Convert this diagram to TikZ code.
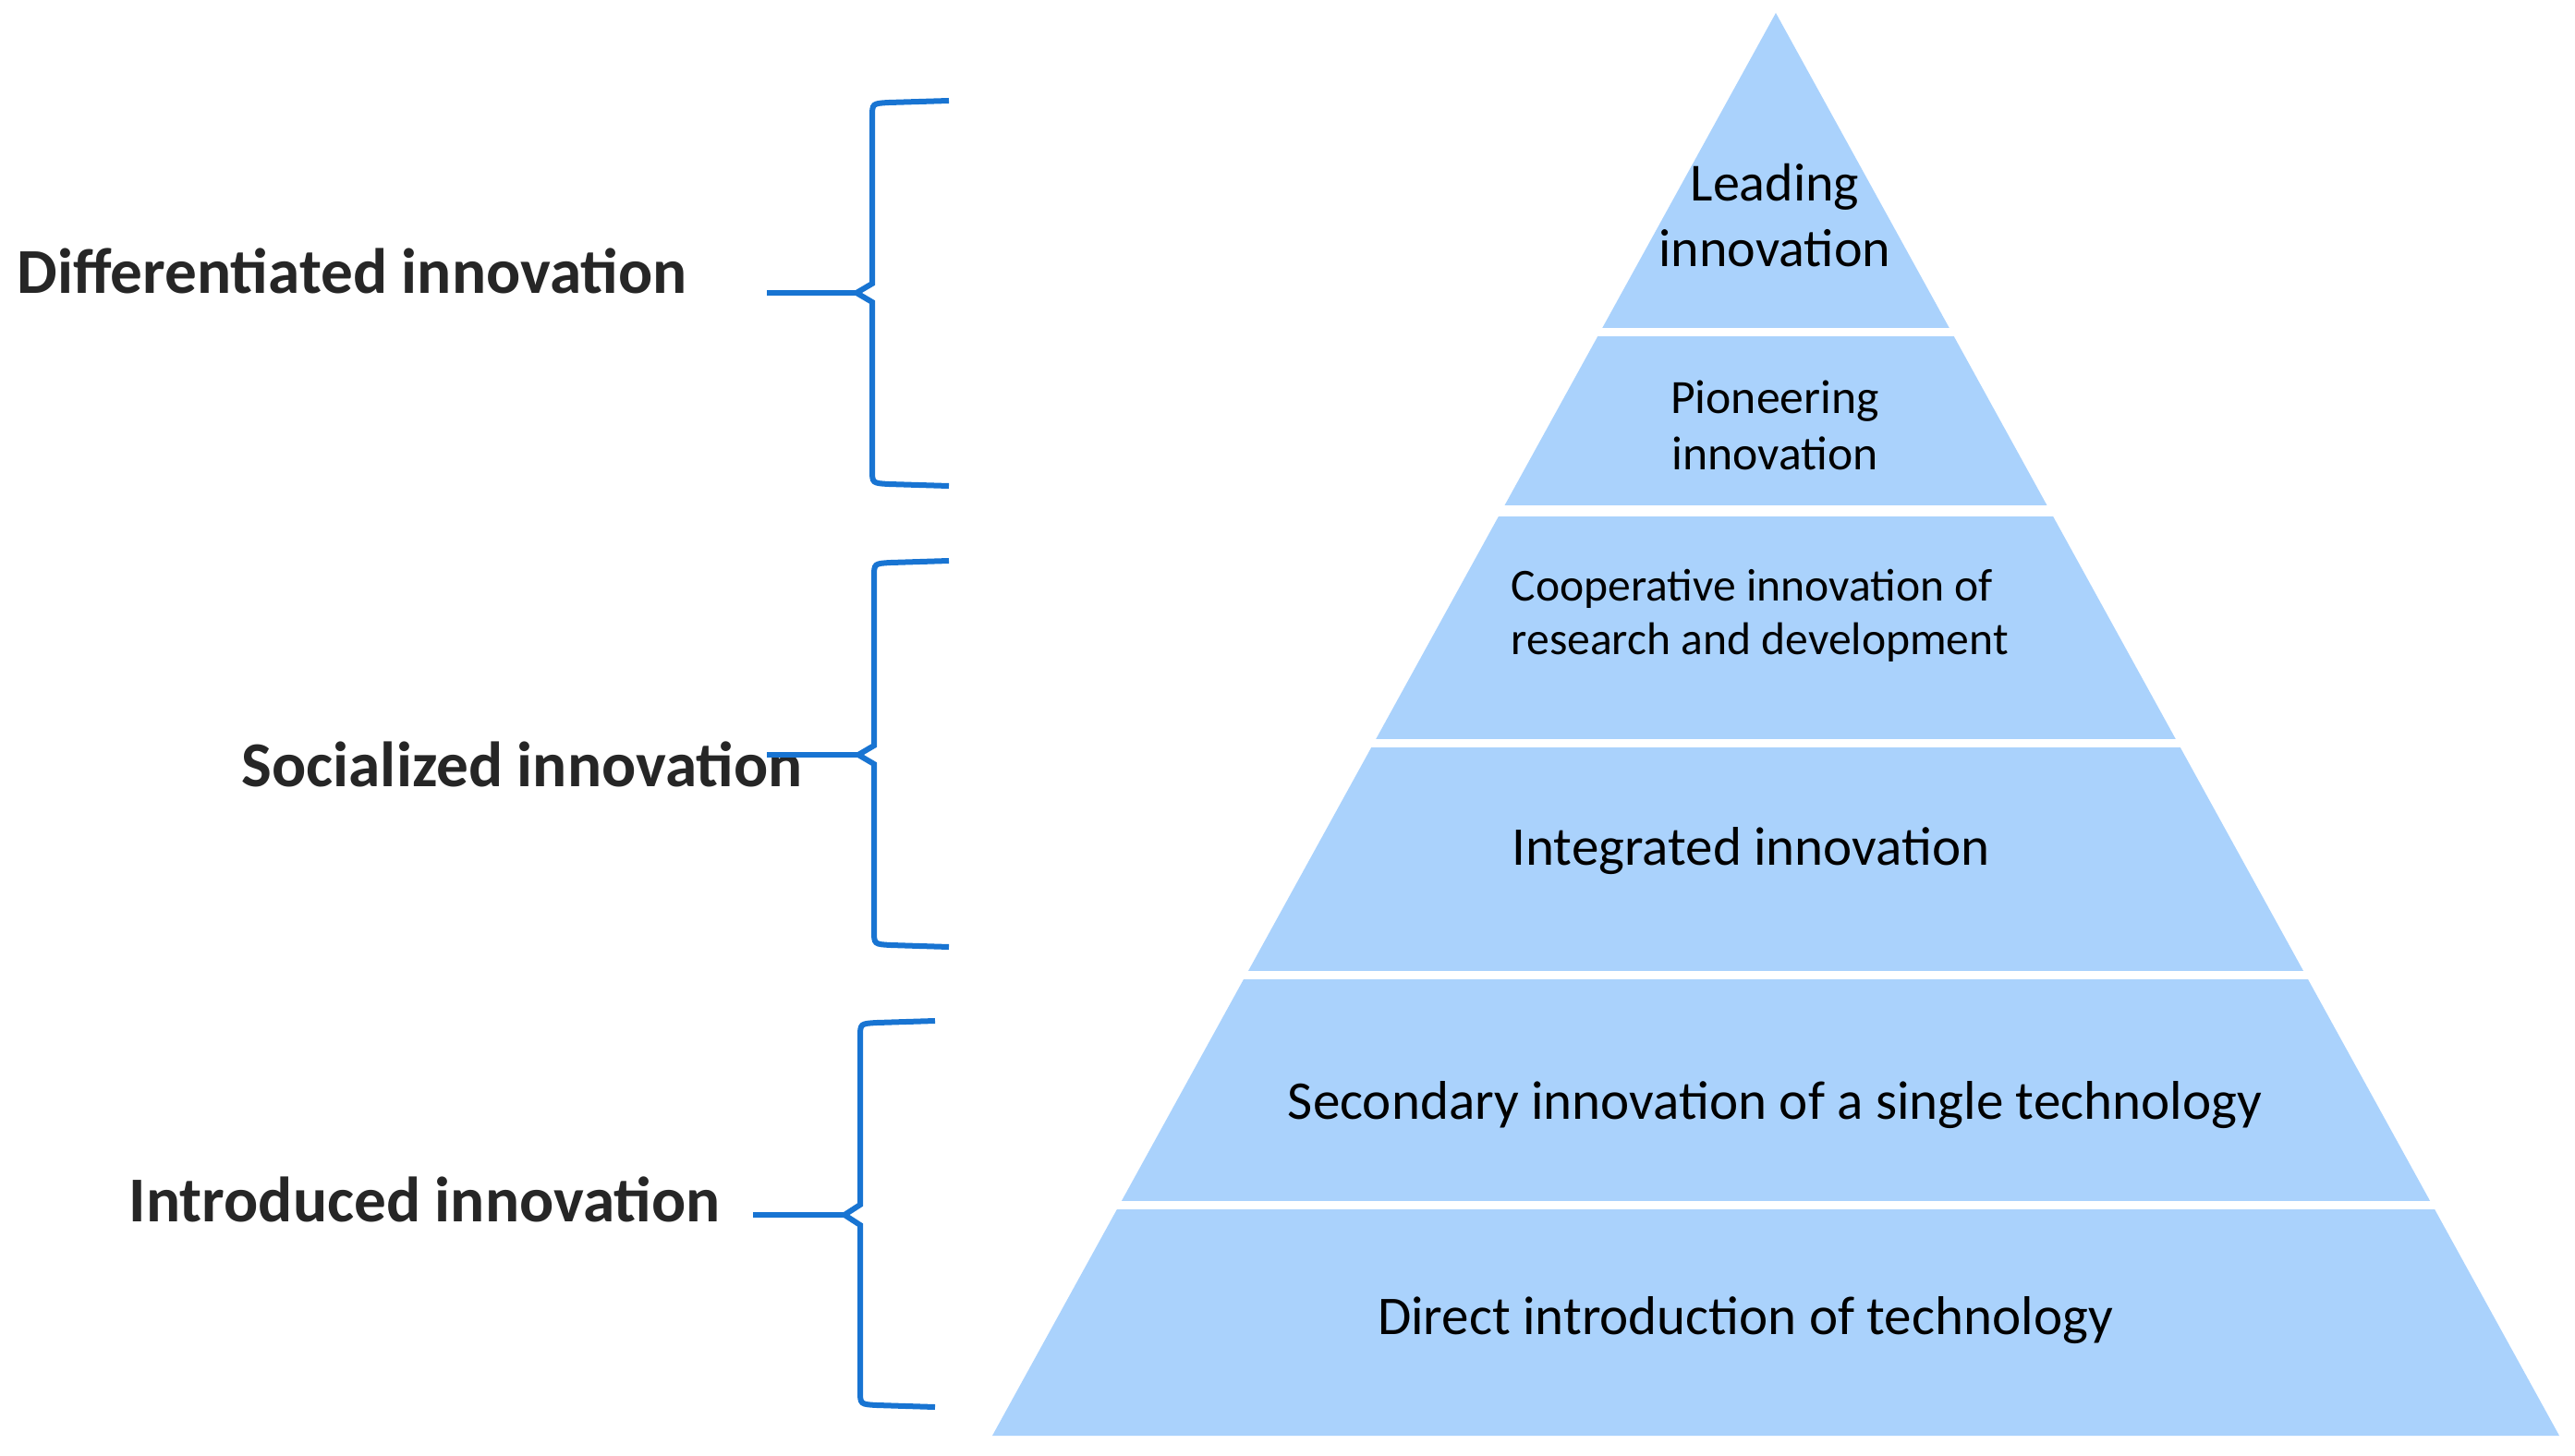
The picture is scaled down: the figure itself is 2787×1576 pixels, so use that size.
\documentclass[tikz,border=0pt]{standalone}
\usepackage{fontspec}
\setmainfont{Carlito}
\definecolor{tierblue}{RGB}{170,210,252}
\definecolor{bracecol}{RGB}{24,116,210}
\definecolor{labelcol}{RGB}{38,38,38}
\begin{document}
\begin{tikzpicture}[x=0.01cm,y=-0.01cm,
  tierfill/.style={fill=tierblue},
  brace/.style={draw=bracecol,line width=0.6mm,line join=miter},
  tiertext/.style={inner sep=0pt,text=black,align=center},
  sidelabel/.style={inner sep=0pt,anchor=west,text=labelcol,font=\fontsize{19.7pt}{24pt}\selectfont\bfseries}]
\useasboundingbox (0,0) rectangle (2787,1576);
% pyramid
\coordinate (apex) at (1922,14);
\coordinate (bl) at (1074,1554);
\coordinate (br) at (2770,1554);
\begin{scope}
\clip (apex) -- (bl) -- (br) -- cycle;
\fill[tierfill] (1000,0) rectangle (2800,355);
\fill[tierfill] (1000,364) rectangle (2800,547);
\fill[tierfill] (1000,559) rectangle (2800,800);
\fill[tierfill] (1000,809) rectangle (2800,1051);
\fill[tierfill] (1000,1060) rectangle (2800,1300);
\fill[tierfill] (1000,1309) rectangle (2800,1560);
\end{scope}
% tier texts
\node[tiertext,font=\fontsize{16.5pt}{20.2pt}\selectfont] (lead) at (1921,233) {Leading\\innovation};
\node[tiertext,font=\fontsize{14.7pt}{17.4pt}\selectfont] (pion) at (1921,460) {Pioneering\\innovation};
\node[tiertext,align=left,anchor=west,font=\fontsize{14.1pt}{16.5pt}\selectfont] (coop) at (1635,666) {Cooperative innovation of\\research and development};
\node[tiertext,font=\fontsize{16.8pt}{20pt}\selectfont] (integ) at (1895,921) {Integrated innovation};
\node[tiertext,font=\fontsize{16.8pt}{20pt}\selectfont] (second) at (1921,1196) {Secondary innovation of a single technology};
\node[tiertext,font=\fontsize{16.8pt}{20pt}\selectfont] (direct) at (1889,1429) {Direct introduction of technology};
% side labels
\node[sidelabel] (diff) at (18,293) {Differentiated innovation};
\node[sidelabel] (soc) at (261,827) {Socialized innovation};
\node[sidelabel] (intro) at (139,1298) {Introduced innovation};
% braces
\coordinate (b1t) at (1027,109);
\coordinate (b1b) at (1027,526);
\coordinate (b1tip) at (927,317);
\coordinate (b1end) at (830,317);
\draw[brace] (b1t) -- (962,111) .. controls (944,112) .. (944,127) -- (944,307) -- (b1tip) -- (944,327) -- (944,508) .. controls (944,523) .. (962,524) -- (b1b);
\draw[brace] (b1tip) -- (b1end);
\coordinate (b2t) at (1027,607);
\coordinate (b2b) at (1027,1025);
\coordinate (b2tip) at (929,817);
\coordinate (b2end) at (830,817);
\draw[brace] (b2t) -- (964,609) .. controls (946,610) .. (946,625) -- (946,807) -- (b2tip) -- (946,827) -- (946,1007) .. controls (946,1022) .. (964,1023) -- (b2b);
\draw[brace] (b2tip) -- (b2end);
\coordinate (b3t) at (1012,1105);
\coordinate (b3b) at (1012,1523);
\coordinate (b3tip) at (914,1315);
\coordinate (b3end) at (815,1315);
\draw[brace] (b3t) -- (949,1107) .. controls (931,1108) .. (931,1123) -- (931,1304) -- (b3tip) -- (931,1326) -- (931,1505) .. controls (931,1520) .. (949,1521) -- (b3b);
\draw[brace] (b3tip) -- (b3end);
\end{tikzpicture}
\end{document}
